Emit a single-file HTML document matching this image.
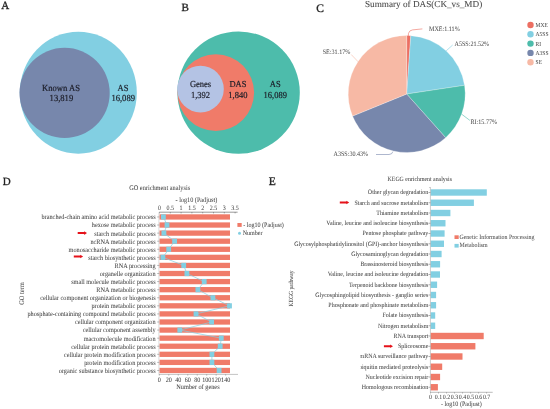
<!DOCTYPE html>
<html><head><meta charset="utf-8"><style>
html,body{margin:0;padding:0;background:#fff;}
body{width:550px;height:409px;overflow:hidden;}
svg{display:block;font-family:"Liberation Serif",serif;text-rendering:geometricPrecision;}
</style></head><body>
<svg width="550" height="409" viewBox="0 0 550 409">
<defs><filter id="bl" x="-5%" y="-5%" width="110%" height="110%"><feGaussianBlur stdDeviation="0.25"/></filter>
<clipPath id="kc" clipPathUnits="userSpaceOnUse"><rect x="360.5" y="0" width="200" height="409"/></clipPath></defs>
<rect width="550" height="409" fill="#fff"/>
<ellipse cx="78.3" cy="92.7" rx="58.5" ry="61" fill="#82CFE2"/>
<circle cx="64.6" cy="92.9" r="45.1" fill="#7787AC"/>
<circle cx="238.6" cy="92.6" r="61.2" fill="#4DBCAB"/>
<circle cx="215.8" cy="92.6" r="38.3" fill="#F07B69"/>
<circle cx="200.5" cy="89.1" r="23.3" fill="#B4C3E4"/>
<path d="M406.7,94 L406.70,35.50 A58.5,58.5 0 0 1 410.78,35.64 Z" fill="#EC6F62" stroke="#fff" stroke-width="0.25"/>
<path d="M406.7,94 L410.78,35.64 A58.5,58.5 0 0 1 464.55,85.32 Z" fill="#82CFE2" stroke="#fff" stroke-width="0.25"/>
<path d="M406.7,94 L464.55,85.32 A58.5,58.5 0 0 1 445.66,137.64 Z" fill="#4DBCAB" stroke="#fff" stroke-width="0.25"/>
<path d="M406.7,94 L445.66,137.64 A58.5,58.5 0 0 1 352.54,116.12 Z" fill="#7787AC" stroke="#fff" stroke-width="0.25"/>
<path d="M406.7,94 L352.54,116.12 A58.5,58.5 0 0 1 406.70,35.50 Z" fill="#F7B9A5" stroke="#fff" stroke-width="0.25"/>
<path d="M408.3,36.2 L408.5,33.3 Q409.3,30.3 412.5,29.9 L422.4,28.9" fill="none" stroke="#EC6F62" stroke-width="0.6"/>
<path d="M446.2,50.8 L452.7,45" fill="none" stroke="#82CFE2" stroke-width="0.6"/>
<path d="M461.4,114 L469.9,120.4" fill="none" stroke="#4DBCAB" stroke-width="0.6"/>
<path d="M392.9,151.6 Q392.2,154.4 389,154.5 L376,154.5" fill="none" stroke="#7787AC" stroke-width="0.6"/>
<path d="M358.2,61.8 L351.2,54.5" fill="none" stroke="#F7B9A5" stroke-width="0.6"/>
<circle cx="530.5" cy="25.00" r="3.2" fill="#EC6F62"/>
<circle cx="530.5" cy="34.30" r="3.2" fill="#82CFE2"/>
<circle cx="530.5" cy="43.60" r="3.2" fill="#4DBCAB"/>
<circle cx="530.5" cy="52.90" r="3.2" fill="#7787AC"/>
<circle cx="530.5" cy="62.20" r="3.2" fill="#F7B9A5"/>
<line x1="159.3" y1="212.2" x2="237.6" y2="212.2" stroke="#333" stroke-width="0.5"/>
<line x1="159.50" y1="212.2" x2="159.50" y2="213.4" stroke="#333" stroke-width="0.4"/>
<line x1="170.30" y1="212.2" x2="170.30" y2="213.4" stroke="#333" stroke-width="0.4"/>
<line x1="181.10" y1="212.2" x2="181.10" y2="213.4" stroke="#333" stroke-width="0.4"/>
<line x1="191.90" y1="212.2" x2="191.90" y2="213.4" stroke="#333" stroke-width="0.4"/>
<line x1="202.70" y1="212.2" x2="202.70" y2="213.4" stroke="#333" stroke-width="0.4"/>
<line x1="213.50" y1="212.2" x2="213.50" y2="213.4" stroke="#333" stroke-width="0.4"/>
<line x1="224.30" y1="212.2" x2="224.30" y2="213.4" stroke="#333" stroke-width="0.4"/>
<line x1="235.10" y1="212.2" x2="235.10" y2="213.4" stroke="#333" stroke-width="0.4"/>
<rect x="159.5" y="214.30" width="70.5" height="5.3" fill="#F07B69"/>
<line x1="157.3" y1="216.95" x2="159.3" y2="216.95" stroke="#333" stroke-width="0.4"/>
<rect x="159.5" y="222.38" width="70.5" height="5.3" fill="#F07B69"/>
<line x1="157.3" y1="225.03" x2="159.3" y2="225.03" stroke="#333" stroke-width="0.4"/>
<rect x="159.5" y="230.46" width="70.5" height="5.3" fill="#F07B69"/>
<line x1="157.3" y1="233.11" x2="159.3" y2="233.11" stroke="#333" stroke-width="0.4"/>
<rect x="159.5" y="238.54" width="70.5" height="5.3" fill="#F07B69"/>
<line x1="157.3" y1="241.19" x2="159.3" y2="241.19" stroke="#333" stroke-width="0.4"/>
<rect x="159.5" y="246.62" width="70.5" height="5.3" fill="#F07B69"/>
<line x1="157.3" y1="249.27" x2="159.3" y2="249.27" stroke="#333" stroke-width="0.4"/>
<rect x="159.5" y="254.70" width="70.5" height="5.3" fill="#F07B69"/>
<line x1="157.3" y1="257.35" x2="159.3" y2="257.35" stroke="#333" stroke-width="0.4"/>
<rect x="159.5" y="262.78" width="70.5" height="5.3" fill="#F07B69"/>
<line x1="157.3" y1="265.43" x2="159.3" y2="265.43" stroke="#333" stroke-width="0.4"/>
<rect x="159.5" y="270.86" width="70.5" height="5.3" fill="#F07B69"/>
<line x1="157.3" y1="273.51" x2="159.3" y2="273.51" stroke="#333" stroke-width="0.4"/>
<rect x="159.5" y="278.94" width="70.5" height="5.3" fill="#F07B69"/>
<line x1="157.3" y1="281.59" x2="159.3" y2="281.59" stroke="#333" stroke-width="0.4"/>
<rect x="159.5" y="287.02" width="70.5" height="5.3" fill="#F07B69"/>
<line x1="157.3" y1="289.67" x2="159.3" y2="289.67" stroke="#333" stroke-width="0.4"/>
<rect x="159.5" y="295.10" width="70.5" height="5.3" fill="#F07B69"/>
<line x1="157.3" y1="297.75" x2="159.3" y2="297.75" stroke="#333" stroke-width="0.4"/>
<rect x="159.5" y="303.18" width="70.5" height="5.3" fill="#F07B69"/>
<line x1="157.3" y1="305.83" x2="159.3" y2="305.83" stroke="#333" stroke-width="0.4"/>
<rect x="159.5" y="311.26" width="70.5" height="5.3" fill="#F07B69"/>
<line x1="157.3" y1="313.91" x2="159.3" y2="313.91" stroke="#333" stroke-width="0.4"/>
<rect x="159.5" y="319.34" width="70.5" height="5.3" fill="#F07B69"/>
<line x1="157.3" y1="321.99" x2="159.3" y2="321.99" stroke="#333" stroke-width="0.4"/>
<rect x="159.5" y="327.42" width="70.5" height="5.3" fill="#F07B69"/>
<line x1="157.3" y1="330.07" x2="159.3" y2="330.07" stroke="#333" stroke-width="0.4"/>
<rect x="159.5" y="335.50" width="70.5" height="5.3" fill="#F07B69"/>
<line x1="157.3" y1="338.15" x2="159.3" y2="338.15" stroke="#333" stroke-width="0.4"/>
<rect x="159.5" y="343.58" width="70.5" height="5.3" fill="#F07B69"/>
<line x1="157.3" y1="346.23" x2="159.3" y2="346.23" stroke="#333" stroke-width="0.4"/>
<rect x="159.5" y="351.66" width="70.5" height="5.3" fill="#F07B69"/>
<line x1="157.3" y1="354.31" x2="159.3" y2="354.31" stroke="#333" stroke-width="0.4"/>
<rect x="159.5" y="359.74" width="70.5" height="5.3" fill="#F07B69"/>
<line x1="157.3" y1="362.39" x2="159.3" y2="362.39" stroke="#333" stroke-width="0.4"/>
<rect x="159.5" y="367.82" width="70.5" height="5.3" fill="#F07B69"/>
<line x1="157.3" y1="370.47" x2="159.3" y2="370.47" stroke="#333" stroke-width="0.4"/>
<polyline points="163.40,216.95 167.00,225.03 163.90,233.11 174.60,241.19 168.70,249.27 162.90,257.35 183.70,265.43 186.90,273.51 204.20,281.59 197.90,289.67 212.90,297.75 229.50,305.83 196.00,313.91 211.60,321.99 179.80,330.07 221.30,338.15 220.20,346.23 211.90,354.31 211.90,362.39 219.10,370.47" fill="none" stroke="#82CFE2" stroke-width="0.7"/>
<rect x="161.00" y="214.35" width="4.8" height="5.2" fill="#82CFE2"/>
<rect x="164.60" y="222.43" width="4.8" height="5.2" fill="#82CFE2"/>
<rect x="161.50" y="230.51" width="4.8" height="5.2" fill="#82CFE2"/>
<rect x="172.20" y="238.59" width="4.8" height="5.2" fill="#82CFE2"/>
<rect x="166.30" y="246.67" width="4.8" height="5.2" fill="#82CFE2"/>
<rect x="160.50" y="254.75" width="4.8" height="5.2" fill="#82CFE2"/>
<rect x="181.30" y="262.83" width="4.8" height="5.2" fill="#82CFE2"/>
<rect x="184.50" y="270.91" width="4.8" height="5.2" fill="#82CFE2"/>
<rect x="201.80" y="278.99" width="4.8" height="5.2" fill="#82CFE2"/>
<rect x="195.50" y="287.07" width="4.8" height="5.2" fill="#82CFE2"/>
<rect x="210.50" y="295.15" width="4.8" height="5.2" fill="#82CFE2"/>
<rect x="227.10" y="303.23" width="4.8" height="5.2" fill="#82CFE2"/>
<rect x="193.60" y="311.31" width="4.8" height="5.2" fill="#82CFE2"/>
<rect x="209.20" y="319.39" width="4.8" height="5.2" fill="#82CFE2"/>
<rect x="177.40" y="327.47" width="4.8" height="5.2" fill="#82CFE2"/>
<rect x="218.90" y="335.55" width="4.8" height="5.2" fill="#82CFE2"/>
<rect x="217.80" y="343.63" width="4.8" height="5.2" fill="#82CFE2"/>
<rect x="209.50" y="351.71" width="4.8" height="5.2" fill="#82CFE2"/>
<rect x="209.50" y="359.79" width="4.8" height="5.2" fill="#82CFE2"/>
<rect x="216.70" y="367.87" width="4.8" height="5.2" fill="#82CFE2"/>
<line x1="158.9" y1="212.2" x2="158.9" y2="374.4" stroke="#bbb" stroke-width="0.5"/>
<line x1="158.9" y1="374.4" x2="238" y2="374.4" stroke="#888" stroke-width="0.5"/>
<line x1="159.30" y1="374.4" x2="159.30" y2="375.6" stroke="#555" stroke-width="0.4"/>
<line x1="168.78" y1="374.4" x2="168.78" y2="375.6" stroke="#555" stroke-width="0.4"/>
<line x1="178.26" y1="374.4" x2="178.26" y2="375.6" stroke="#555" stroke-width="0.4"/>
<line x1="187.74" y1="374.4" x2="187.74" y2="375.6" stroke="#555" stroke-width="0.4"/>
<line x1="197.22" y1="374.4" x2="197.22" y2="375.6" stroke="#555" stroke-width="0.4"/>
<line x1="206.70" y1="374.4" x2="206.70" y2="375.6" stroke="#555" stroke-width="0.4"/>
<line x1="216.18" y1="374.4" x2="216.18" y2="375.6" stroke="#555" stroke-width="0.4"/>
<line x1="225.66" y1="374.4" x2="225.66" y2="375.6" stroke="#555" stroke-width="0.4"/>
<rect x="237.4" y="223" width="4.3" height="3.9" fill="#F07B69"/>
<circle cx="239.5" cy="233.2" r="1.5" fill="#82CFE2"/>
<path d="M77.7,232.1 L84.2,232.1 L84.2,231.29999999999998 L87,233.1 L84.2,234.9 L84.2,234.1 L77.7,234.1 Z" fill="#E5121A"/>
<path d="M73.8,255.5 L80.3,255.5 L80.3,254.7 L83.1,256.5 L80.3,258.3 L80.3,257.5 L73.8,257.5 Z" fill="#E5121A"/>
<path d="M339.8,201.5 L346.4,201.5 L346.4,200.7 L349.2,202.5 L346.4,204.3 L346.4,203.5 L339.8,203.5 Z" fill="#E5121A"/>
<path d="M383.9,345.2 L390.2,345.2 L390.2,344.4 L393,346.2 L390.2,348.0 L390.2,347.2 L383.9,347.2 Z" fill="#E5121A"/>
<rect x="430.7" y="189.30" width="56.10" height="6.4" fill="#82CFE2"/>
<line x1="428.5" y1="192.50" x2="430.5" y2="192.50" stroke="#333" stroke-width="0.4"/>
<rect x="430.7" y="199.55" width="43.20" height="6.4" fill="#82CFE2"/>
<line x1="428.5" y1="202.75" x2="430.5" y2="202.75" stroke="#333" stroke-width="0.4"/>
<rect x="430.7" y="209.80" width="19.70" height="6.4" fill="#82CFE2"/>
<line x1="428.5" y1="213.00" x2="430.5" y2="213.00" stroke="#333" stroke-width="0.4"/>
<rect x="430.7" y="220.05" width="14.80" height="6.4" fill="#82CFE2"/>
<line x1="428.5" y1="223.25" x2="430.5" y2="223.25" stroke="#333" stroke-width="0.4"/>
<rect x="430.7" y="230.30" width="13.90" height="6.4" fill="#82CFE2"/>
<line x1="428.5" y1="233.50" x2="430.5" y2="233.50" stroke="#333" stroke-width="0.4"/>
<rect x="430.7" y="240.55" width="13.30" height="6.4" fill="#82CFE2"/>
<line x1="428.5" y1="243.75" x2="430.5" y2="243.75" stroke="#333" stroke-width="0.4"/>
<rect x="430.7" y="250.80" width="10.90" height="6.4" fill="#82CFE2"/>
<line x1="428.5" y1="254.00" x2="430.5" y2="254.00" stroke="#333" stroke-width="0.4"/>
<rect x="430.7" y="261.05" width="9.40" height="6.4" fill="#82CFE2"/>
<line x1="428.5" y1="264.25" x2="430.5" y2="264.25" stroke="#333" stroke-width="0.4"/>
<rect x="430.7" y="271.30" width="9.30" height="6.4" fill="#82CFE2"/>
<line x1="428.5" y1="274.50" x2="430.5" y2="274.50" stroke="#333" stroke-width="0.4"/>
<rect x="430.7" y="281.55" width="6.40" height="6.4" fill="#82CFE2"/>
<line x1="428.5" y1="284.75" x2="430.5" y2="284.75" stroke="#333" stroke-width="0.4"/>
<rect x="430.7" y="291.80" width="5.40" height="6.4" fill="#82CFE2"/>
<line x1="428.5" y1="295.00" x2="430.5" y2="295.00" stroke="#333" stroke-width="0.4"/>
<rect x="430.7" y="302.05" width="5.40" height="6.4" fill="#82CFE2"/>
<line x1="428.5" y1="305.25" x2="430.5" y2="305.25" stroke="#333" stroke-width="0.4"/>
<rect x="430.7" y="312.30" width="4.50" height="6.4" fill="#82CFE2"/>
<line x1="428.5" y1="315.50" x2="430.5" y2="315.50" stroke="#333" stroke-width="0.4"/>
<rect x="430.7" y="322.55" width="4.50" height="6.4" fill="#82CFE2"/>
<line x1="428.5" y1="325.75" x2="430.5" y2="325.75" stroke="#333" stroke-width="0.4"/>
<rect x="430.7" y="332.80" width="53.00" height="6.4" fill="#F07B69"/>
<line x1="428.5" y1="336.00" x2="430.5" y2="336.00" stroke="#333" stroke-width="0.4"/>
<rect x="430.7" y="343.05" width="44.70" height="6.4" fill="#F07B69"/>
<line x1="428.5" y1="346.25" x2="430.5" y2="346.25" stroke="#333" stroke-width="0.4"/>
<rect x="430.7" y="353.30" width="31.80" height="6.4" fill="#F07B69"/>
<line x1="428.5" y1="356.50" x2="430.5" y2="356.50" stroke="#333" stroke-width="0.4"/>
<rect x="430.7" y="363.55" width="11.50" height="6.4" fill="#F07B69"/>
<line x1="428.5" y1="366.75" x2="430.5" y2="366.75" stroke="#333" stroke-width="0.4"/>
<rect x="430.7" y="373.80" width="9.40" height="6.4" fill="#F07B69"/>
<line x1="428.5" y1="377.00" x2="430.5" y2="377.00" stroke="#333" stroke-width="0.4"/>
<rect x="430.7" y="384.05" width="7.20" height="6.4" fill="#F07B69"/>
<line x1="428.5" y1="387.25" x2="430.5" y2="387.25" stroke="#333" stroke-width="0.4"/>
<line x1="430.4" y1="187.3" x2="430.4" y2="392.3" stroke="#999" stroke-width="0.5"/>
<line x1="429.2" y1="187.5" x2="430.4" y2="187.5" stroke="#777" stroke-width="0.4"/>
<line x1="430.4" y1="392.3" x2="492.7" y2="392.3" stroke="#777" stroke-width="0.5"/>
<line x1="430.50" y1="392.3" x2="430.50" y2="393.5" stroke="#555" stroke-width="0.4"/>
<line x1="438.51" y1="392.3" x2="438.51" y2="393.5" stroke="#555" stroke-width="0.4"/>
<line x1="446.52" y1="392.3" x2="446.52" y2="393.5" stroke="#555" stroke-width="0.4"/>
<line x1="454.53" y1="392.3" x2="454.53" y2="393.5" stroke="#555" stroke-width="0.4"/>
<line x1="462.54" y1="392.3" x2="462.54" y2="393.5" stroke="#555" stroke-width="0.4"/>
<line x1="470.55" y1="392.3" x2="470.55" y2="393.5" stroke="#555" stroke-width="0.4"/>
<line x1="478.56" y1="392.3" x2="478.56" y2="393.5" stroke="#555" stroke-width="0.4"/>
<line x1="486.57" y1="392.3" x2="486.57" y2="393.5" stroke="#555" stroke-width="0.4"/>
<rect x="454.5" y="235.3" width="4.2" height="3.7" fill="#F07B69"/>
<rect x="454.5" y="243.9" width="4.2" height="3.7" fill="#82CFE2"/>
<g filter="url(#bl)">
<text transform="translate(1.20,9.30)" font-size="11.000" text-anchor="start" fill="#222" stroke="#222" stroke-width="0.3" >A</text>
<text transform="translate(181.60,11.00)" font-size="11.000" text-anchor="start" fill="#222" stroke="#222" stroke-width="0.3" >B</text>
<text transform="translate(316.30,11.60)" font-size="11.500" text-anchor="start" fill="#222" stroke="#222" stroke-width="0.3" >C</text>
<text transform="translate(2.80,184.70)" font-size="11.000" text-anchor="start" fill="#222" stroke="#222" stroke-width="0.3" >D</text>
<text transform="translate(268.80,184.70)" font-size="11.500" text-anchor="start" fill="#222" stroke="#222" stroke-width="0.3" >E</text>
<text transform="translate(61.00,90.80) scale(0.93,1)" font-size="9.247" text-anchor="middle" fill="#1c1e28" stroke="#1c1e28" stroke-width="0.2" >Known AS</text>
<text transform="translate(61.40,101.20) scale(0.93,1)" font-size="9.247" text-anchor="middle" fill="#1c1e28" stroke="#1c1e28" stroke-width="0.2" >13,819</text>
<text transform="translate(123.00,90.80) scale(0.93,1)" font-size="9.247" text-anchor="middle" fill="#1c1e28" stroke="#1c1e28" stroke-width="0.2" >AS</text>
<text transform="translate(123.20,101.20) scale(0.93,1)" font-size="9.247" text-anchor="middle" fill="#1c1e28" stroke="#1c1e28" stroke-width="0.2" >16,089</text>
<text transform="translate(200.50,87.10) scale(0.93,1)" font-size="9.140" text-anchor="middle" fill="#1c1e28" stroke="#1c1e28" stroke-width="0.2" >Genes</text>
<text transform="translate(200.50,97.50) scale(0.93,1)" font-size="9.140" text-anchor="middle" fill="#1c1e28" stroke="#1c1e28" stroke-width="0.2" >1,392</text>
<text transform="translate(237.90,87.10) scale(0.93,1)" font-size="9.140" text-anchor="middle" fill="#1c1e28" stroke="#1c1e28" stroke-width="0.2" >DAS</text>
<text transform="translate(237.90,97.50) scale(0.93,1)" font-size="9.140" text-anchor="middle" fill="#1c1e28" stroke="#1c1e28" stroke-width="0.2" >1,840</text>
<text transform="translate(275.20,87.10) scale(0.93,1)" font-size="9.140" text-anchor="middle" fill="#1c1e28" stroke="#1c1e28" stroke-width="0.2" >AS</text>
<text transform="translate(275.20,97.50) scale(0.93,1)" font-size="9.140" text-anchor="middle" fill="#1c1e28" stroke="#1c1e28" stroke-width="0.2" >16,089</text>
<text transform="translate(365.00,7.40)" font-size="9.180" text-anchor="start" fill="#4a4a4a" stroke="#4a4a4a" stroke-width="0.08" >Summary of DAS(CK_vs_MD)</text>
<text transform="translate(429.00,30.50) scale(0.9,1)" font-size="6.778" text-anchor="start" fill="#4a4a4a" stroke="#4a4a4a" stroke-width="0.03" >MXE:1.11%</text>
<text transform="translate(454.50,46.00) scale(0.9,1)" font-size="6.778" text-anchor="start" fill="#4a4a4a" stroke="#4a4a4a" stroke-width="0.03" >A5SS:21.52%</text>
<text transform="translate(470.50,124.20) scale(0.9,1)" font-size="6.778" text-anchor="start" fill="#4a4a4a" stroke="#4a4a4a" stroke-width="0.03" >RI:15.77%</text>
<text transform="translate(368.20,155.50) scale(0.9,1)" font-size="6.778" text-anchor="end" fill="#4a4a4a" stroke="#4a4a4a" stroke-width="0.03" >A3SS:30.43%</text>
<text transform="translate(350.30,53.90) scale(0.9,1)" font-size="6.778" text-anchor="end" fill="#4a4a4a" stroke="#4a4a4a" stroke-width="0.03" >SE:31.17%</text>
<text transform="translate(535.60,27.00) scale(0.9,1)" font-size="6.111" text-anchor="start" fill="#4a4a4a" stroke="#4a4a4a" stroke-width="0.03" >MXE</text>
<text transform="translate(535.60,36.30) scale(0.9,1)" font-size="6.111" text-anchor="start" fill="#4a4a4a" stroke="#4a4a4a" stroke-width="0.03" >A5SS</text>
<text transform="translate(535.60,45.60) scale(0.9,1)" font-size="6.111" text-anchor="start" fill="#4a4a4a" stroke="#4a4a4a" stroke-width="0.03" >RI</text>
<text transform="translate(535.60,54.90) scale(0.9,1)" font-size="6.111" text-anchor="start" fill="#4a4a4a" stroke="#4a4a4a" stroke-width="0.03" >A3SS</text>
<text transform="translate(535.60,64.20) scale(0.9,1)" font-size="6.111" text-anchor="start" fill="#4a4a4a" stroke="#4a4a4a" stroke-width="0.03" >SE</text>
<text transform="translate(129.20,189.80) scale(0.9,1)" font-size="7.000" text-anchor="start" fill="#404040" stroke="#404040" stroke-width="0.03" >GO enrichment analysis</text>
<text transform="translate(175.60,201.80) scale(0.9,1)" font-size="6.889" text-anchor="start" fill="#404040" stroke="#404040" stroke-width="0.03" >- log10 (Padjust)</text>
<text transform="translate(159.50,209.80) scale(0.9,1)" font-size="6.667" text-anchor="middle" fill="#404040" stroke="#404040" stroke-width="0.03" >0</text>
<text transform="translate(170.30,209.80) scale(0.9,1)" font-size="6.667" text-anchor="middle" fill="#404040" stroke="#404040" stroke-width="0.03" >0.5</text>
<text transform="translate(181.10,209.80) scale(0.9,1)" font-size="6.667" text-anchor="middle" fill="#404040" stroke="#404040" stroke-width="0.03" >1</text>
<text transform="translate(191.90,209.80) scale(0.9,1)" font-size="6.667" text-anchor="middle" fill="#404040" stroke="#404040" stroke-width="0.03" >1.5</text>
<text transform="translate(202.70,209.80) scale(0.9,1)" font-size="6.667" text-anchor="middle" fill="#404040" stroke="#404040" stroke-width="0.03" >2</text>
<text transform="translate(213.50,209.80) scale(0.9,1)" font-size="6.667" text-anchor="middle" fill="#404040" stroke="#404040" stroke-width="0.03" >2.5</text>
<text transform="translate(224.30,209.80) scale(0.9,1)" font-size="6.667" text-anchor="middle" fill="#404040" stroke="#404040" stroke-width="0.03" >3</text>
<text transform="translate(235.10,209.80) scale(0.9,1)" font-size="6.667" text-anchor="middle" fill="#404040" stroke="#404040" stroke-width="0.03" >3.5</text>
<text transform="translate(155.60,219.35) scale(0.9,1)" font-size="6.944" text-anchor="end" fill="#404040" stroke="#404040" stroke-width="0.03" >branched-chain amino acid metabolic process</text>
<text transform="translate(155.60,227.43) scale(0.9,1)" font-size="6.944" text-anchor="end" fill="#404040" stroke="#404040" stroke-width="0.03" >hexose metabolic process</text>
<text transform="translate(155.60,235.51) scale(0.9,1)" font-size="6.944" text-anchor="end" fill="#404040" stroke="#404040" stroke-width="0.03" >starch metabolic process</text>
<text transform="translate(155.60,243.59) scale(0.9,1)" font-size="6.944" text-anchor="end" fill="#404040" stroke="#404040" stroke-width="0.03" >ncRNA metabolic process</text>
<text transform="translate(155.60,251.67) scale(0.9,1)" font-size="6.944" text-anchor="end" fill="#404040" stroke="#404040" stroke-width="0.03" >monosaccharide metabolic process</text>
<text transform="translate(155.60,259.75) scale(0.9,1)" font-size="6.944" text-anchor="end" fill="#404040" stroke="#404040" stroke-width="0.03" >starch biosynthetic process</text>
<text transform="translate(155.60,267.83) scale(0.9,1)" font-size="6.944" text-anchor="end" fill="#404040" stroke="#404040" stroke-width="0.03" >RNA processing</text>
<text transform="translate(155.60,275.91) scale(0.9,1)" font-size="6.944" text-anchor="end" fill="#404040" stroke="#404040" stroke-width="0.03" >organelle organization</text>
<text transform="translate(155.60,283.99) scale(0.9,1)" font-size="6.944" text-anchor="end" fill="#404040" stroke="#404040" stroke-width="0.03" >small molecule metabolic process</text>
<text transform="translate(155.60,292.07) scale(0.9,1)" font-size="6.944" text-anchor="end" fill="#404040" stroke="#404040" stroke-width="0.03" >RNA metabolic process</text>
<text transform="translate(155.60,300.15) scale(0.9,1)" font-size="6.944" text-anchor="end" fill="#404040" stroke="#404040" stroke-width="0.03" >cellular component organization or biogenesis</text>
<text transform="translate(155.60,308.23) scale(0.9,1)" font-size="6.944" text-anchor="end" fill="#404040" stroke="#404040" stroke-width="0.03" >protein metabolic process</text>
<text transform="translate(155.60,316.31) scale(0.9,1)" font-size="6.944" text-anchor="end" fill="#404040" stroke="#404040" stroke-width="0.03" >phosphate-containing compound metabolic process</text>
<text transform="translate(155.60,324.39) scale(0.9,1)" font-size="6.944" text-anchor="end" fill="#404040" stroke="#404040" stroke-width="0.03" >cellular component organization</text>
<text transform="translate(155.60,332.47) scale(0.9,1)" font-size="6.944" text-anchor="end" fill="#404040" stroke="#404040" stroke-width="0.03" >cellular component assembly</text>
<text transform="translate(155.60,340.55) scale(0.9,1)" font-size="6.944" text-anchor="end" fill="#404040" stroke="#404040" stroke-width="0.03" >macromolecule modification</text>
<text transform="translate(155.60,348.63) scale(0.9,1)" font-size="6.944" text-anchor="end" fill="#404040" stroke="#404040" stroke-width="0.03" >cellular protein metabolic process</text>
<text transform="translate(155.60,356.71) scale(0.9,1)" font-size="6.944" text-anchor="end" fill="#404040" stroke="#404040" stroke-width="0.03" >cellular protein modification process</text>
<text transform="translate(155.60,364.79) scale(0.9,1)" font-size="6.944" text-anchor="end" fill="#404040" stroke="#404040" stroke-width="0.03" >protein modification process</text>
<text transform="translate(155.60,372.87) scale(0.9,1)" font-size="6.944" text-anchor="end" fill="#404040" stroke="#404040" stroke-width="0.03" >organic substance biosynthetic process</text>
<text transform="translate(159.30,381.50) scale(0.9,1)" font-size="6.778" text-anchor="middle" fill="#404040" stroke="#404040" stroke-width="0.03" >0</text>
<text transform="translate(168.78,381.50) scale(0.9,1)" font-size="6.778" text-anchor="middle" fill="#404040" stroke="#404040" stroke-width="0.03" >20</text>
<text transform="translate(178.26,381.50) scale(0.9,1)" font-size="6.778" text-anchor="middle" fill="#404040" stroke="#404040" stroke-width="0.03" >40</text>
<text transform="translate(187.74,381.50) scale(0.9,1)" font-size="6.778" text-anchor="middle" fill="#404040" stroke="#404040" stroke-width="0.03" >60</text>
<text transform="translate(197.22,381.50) scale(0.9,1)" font-size="6.778" text-anchor="middle" fill="#404040" stroke="#404040" stroke-width="0.03" >80</text>
<text transform="translate(206.70,381.50) scale(0.9,1)" font-size="6.778" text-anchor="middle" fill="#404040" stroke="#404040" stroke-width="0.03" >100</text>
<text transform="translate(216.18,381.50) scale(0.9,1)" font-size="6.778" text-anchor="middle" fill="#404040" stroke="#404040" stroke-width="0.03" >120</text>
<text transform="translate(225.66,381.50) scale(0.9,1)" font-size="6.778" text-anchor="middle" fill="#404040" stroke="#404040" stroke-width="0.03" >140</text>
<text transform="translate(197.90,389.30) scale(0.9,1)" font-size="7.000" text-anchor="middle" fill="#404040" stroke="#404040" stroke-width="0.03" >Number of genes</text>
<text transform="translate(23.60,293.50) rotate(-90) scale(0.9,1)" font-size="7.111" text-anchor="middle" fill="#404040" stroke="#404040" stroke-width="0.03" >GO term</text>
<text transform="translate(243.20,226.90) scale(0.9,1)" font-size="6.722" text-anchor="start" fill="#404040" stroke="#404040" stroke-width="0.03" >- log10 (Padjust)</text>
<text transform="translate(242.70,234.90) scale(0.9,1)" font-size="6.722" text-anchor="start" fill="#404040" stroke="#404040" stroke-width="0.03" >Number</text>
<text transform="translate(387.60,181.30) scale(0.9,1)" font-size="6.511" text-anchor="start" fill="#404040" stroke="#404040" stroke-width="0.03" >KEGG enrichment analysis</text>
<text transform="translate(428.30,194.40) scale(0.9,1)" font-size="6.622" text-anchor="end" fill="#404040" stroke="#404040" stroke-width="0.03" >Other glycan degradation</text>
<text transform="translate(428.30,204.65) scale(0.9,1)" font-size="6.622" text-anchor="end" fill="#404040" stroke="#404040" stroke-width="0.03" >Starch and sucrose metabolism</text>
<text transform="translate(428.30,214.90) scale(0.9,1)" font-size="6.622" text-anchor="end" fill="#404040" stroke="#404040" stroke-width="0.03" >Thiamine metabolism</text>
<text transform="translate(428.30,225.15) scale(0.9,1)" font-size="6.622" text-anchor="end" fill="#404040" stroke="#404040" stroke-width="0.03" >Valine, leucine and isoleucine biosynthesis</text>
<text transform="translate(428.30,235.40) scale(0.9,1)" font-size="6.622" text-anchor="end" fill="#404040" stroke="#404040" stroke-width="0.03" >Pentose phosphate pathway</text>
<text transform="translate(428.30,245.65) scale(0.9,1)" font-size="6.622" text-anchor="end" fill="#404040" stroke="#404040" stroke-width="0.03" >Glycosylphosphatidylinositol (GPI)-anchor biosynthesis</text>
<text transform="translate(428.30,255.90) scale(0.9,1)" font-size="6.622" text-anchor="end" fill="#404040" stroke="#404040" stroke-width="0.03" >Glycosaminoglycan degradation</text>
<text transform="translate(428.30,266.15) scale(0.9,1)" font-size="6.622" text-anchor="end" fill="#404040" stroke="#404040" stroke-width="0.03" >Brassinosteroid biosynthesis</text>
<text transform="translate(428.30,276.40) scale(0.9,1)" font-size="6.622" text-anchor="end" fill="#404040" stroke="#404040" stroke-width="0.03" >Valine, leucine and isoleucine degradation</text>
<text transform="translate(428.30,286.65) scale(0.9,1)" font-size="6.622" text-anchor="end" fill="#404040" stroke="#404040" stroke-width="0.03" >Terpenoid backbone biosynthesis</text>
<text transform="translate(428.30,296.90) scale(0.9,1)" font-size="6.622" text-anchor="end" fill="#404040" stroke="#404040" stroke-width="0.03" >Glycosphingolipid biosynthesis - ganglio series</text>
<text transform="translate(428.30,307.15) scale(0.9,1)" font-size="6.622" text-anchor="end" fill="#404040" stroke="#404040" stroke-width="0.03" >Phosphonate and phosphinate metabolism</text>
<text transform="translate(428.30,317.40) scale(0.9,1)" font-size="6.622" text-anchor="end" fill="#404040" stroke="#404040" stroke-width="0.03" >Folate biosynthesis</text>
<text transform="translate(428.30,327.65) scale(0.9,1)" font-size="6.622" text-anchor="end" fill="#404040" stroke="#404040" stroke-width="0.03" >Nitrogen metabolism</text>
<text transform="translate(428.30,337.90) scale(0.9,1)" font-size="6.622" text-anchor="end" fill="#404040" stroke="#404040" stroke-width="0.03" >RNA transport</text>
<text transform="translate(428.30,348.15) scale(0.9,1)" font-size="6.622" text-anchor="end" fill="#404040" stroke="#404040" stroke-width="0.03" >Spliceosome</text>
<g clip-path="url(#kc)"><text transform="translate(428.30,358.40) scale(0.9,1)" font-size="6.622" text-anchor="end" fill="#404040" stroke="#404040" stroke-width="0.03" >mRNA surveillance pathway</text></g>
<g clip-path="url(#kc)"><text transform="translate(428.30,368.65) scale(0.9,1)" font-size="6.622" text-anchor="end" fill="#404040" stroke="#404040" stroke-width="0.03" >Ubiquitin mediated proteolysis</text></g>
<text transform="translate(428.30,378.90) scale(0.9,1)" font-size="6.622" text-anchor="end" fill="#404040" stroke="#404040" stroke-width="0.03" >Nucleotide excision repair</text>
<text transform="translate(428.30,389.15) scale(0.9,1)" font-size="6.622" text-anchor="end" fill="#404040" stroke="#404040" stroke-width="0.03" >Homologous recombination</text>
<text transform="translate(430.50,398.60) scale(0.9,1)" font-size="6.556" text-anchor="middle" fill="#404040" stroke="#404040" stroke-width="0.03" >0</text>
<text transform="translate(438.51,398.60) scale(0.9,1)" font-size="6.556" text-anchor="middle" fill="#404040" stroke="#404040" stroke-width="0.03" >0.1</text>
<text transform="translate(446.52,398.60) scale(0.9,1)" font-size="6.556" text-anchor="middle" fill="#404040" stroke="#404040" stroke-width="0.03" >0.2</text>
<text transform="translate(454.53,398.60) scale(0.9,1)" font-size="6.556" text-anchor="middle" fill="#404040" stroke="#404040" stroke-width="0.03" >0.3</text>
<text transform="translate(462.54,398.60) scale(0.9,1)" font-size="6.556" text-anchor="middle" fill="#404040" stroke="#404040" stroke-width="0.03" >0.4</text>
<text transform="translate(470.55,398.60) scale(0.9,1)" font-size="6.556" text-anchor="middle" fill="#404040" stroke="#404040" stroke-width="0.03" >0.5</text>
<text transform="translate(478.56,398.60) scale(0.9,1)" font-size="6.556" text-anchor="middle" fill="#404040" stroke="#404040" stroke-width="0.03" >0.6</text>
<text transform="translate(486.57,398.60) scale(0.9,1)" font-size="6.556" text-anchor="middle" fill="#404040" stroke="#404040" stroke-width="0.03" >0.7</text>
<text transform="translate(461.40,406.40) scale(0.9,1)" font-size="6.722" text-anchor="middle" fill="#404040" stroke="#404040" stroke-width="0.03" >- log10 (Padjust)</text>
<text transform="translate(293.20,288.50) rotate(-90) scale(0.9,1)" font-size="6.222" text-anchor="middle" fill="#404040" stroke="#404040" stroke-width="0.03" >KEGG pathway</text>
<text transform="translate(459.50,238.90) scale(0.9,1)" font-size="6.556" text-anchor="start" fill="#4a4a4a" stroke="#4a4a4a" stroke-width="0.03" >Genetic Information Processing</text>
<text transform="translate(459.50,247.10) scale(0.9,1)" font-size="6.556" text-anchor="start" fill="#4a4a4a" stroke="#4a4a4a" stroke-width="0.03" >Metabolism</text>
</g>
</svg>
</body></html>
